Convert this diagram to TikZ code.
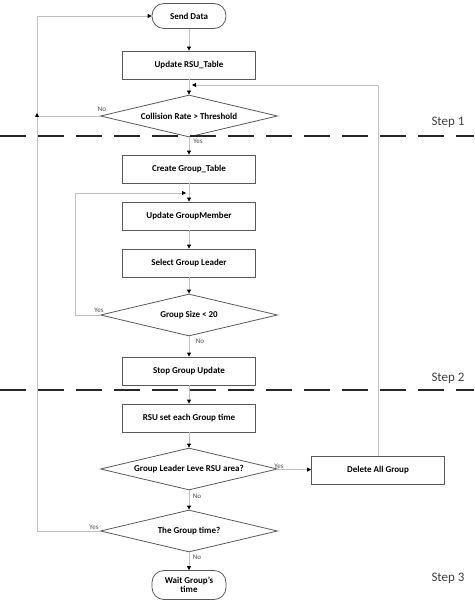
\documentclass[tikz,border=0pt]{standalone}
\usepackage{fontspec}
\setmainfont{Carlito}
\usepackage{tikz}
\usetikzlibrary{shapes.geometric}
\usetikzlibrary{arrows.meta}
\usetikzlibrary{positioning}
\usetikzlibrary{calc}

\begin{document}
\begin{tikzpicture}[x=1pt, y=-1pt,
    every node/.style={font=\fontsize{9}{10}\selectfont\bfseries, text=black},
    process/.style={rectangle, draw=black!65, thick, minimum width=133pt, minimum height=28pt},
    decision/.style={diamond, draw=black!65, thick, aspect=4.3, inner sep=0pt, minimum width=177pt, minimum height=42pt},
    term/.style={rectangle, rounded corners=12pt, draw=black!65, thick, minimum width=74pt, minimum height=25pt, inner sep=2pt},
    flow/.style={draw=black!25, thick, -{Triangle[length=4pt, width=4pt, color=black]}},
    line/.style={draw=black!25, thick},
    lbl/.style={font=\fontsize{7}{8}\selectfont, text=black!70},
    steplbl/.style={font=\fontsize{13}{14}\selectfont, text=black!75},
    sep/.style={draw=black!85, line width=1.6pt, dash pattern=on 26pt off 12pt}]

        \useasboundingbox (0,0) rectangle (474,601);

        \def\mid{189} % x of the main column
        \def\back{37} % x of the left return line

        % main column
        \node[term] (send) at (\mid, 16) {Send Data};
        \node[process] (rsutable) at (\mid, 65) {Update RSU\_Table};
        \node[decision] (collision) at (\mid, 116) {Collision Rate > Threshold};
        \node[process] (create) at (\mid, 169) {Create Group\_Table};
        \node[process] (member) at (\mid, 216) {Update GroupMember};
        \node[process] (leader) at (\mid, 263) {Select Group Leader};
        \node[decision] (size) at (\mid, 315) {Group Size < 20};
        \node[process] (stop) at (\mid, 371) {Stop Group Update};
        \node[process] (settime) at (\mid, 418) {RSU set each Group time};
        \node[decision] (leave) at (\mid, 469) {Group Leader Leve RSU area?};
        \node[process] (delete) at (378, 470) {Delete All Group};
        \node[decision] (gtime) at (\mid, 531) {The Group time?};
        \node[term, align=center, minimum height=29pt] (wait) at (\mid, 585) {Wait Group's\\[-1pt]time};

        \coordinate (join1) at (\mid, 85);
        \coordinate (join2) at (\mid, 193);
        \coordinate (sizeloop) at (75, 193);
        \coordinate (backtop) at (\back, 16);
        \coordinate (backbot) at (\back, 531);
        \coordinate (nojoin) at (\back, 116);
        \coordinate (deltop) at (378, 85);

        \draw[flow] (send) -- (rsutable);
        \draw[flow] (rsutable) -- (collision);
        \draw[flow] (collision) -- (create);
        \draw[flow] (create) -- (member);
        \draw[flow] (member) -- (leader);
        \draw[flow] (leader) -- (size);
        \draw[flow] (size) -- (stop);
        \draw[flow] (stop) -- (settime);
        \draw[flow] (settime) -- (leave);
        \draw[flow] (leave) -- (gtime);
        \draw[flow] (gtime) -- (wait);
        \draw[flow] (leave) -- (delete);

        % return lines
        \draw[flow] (delete.north) -- (deltop) -- ($(join1)+(3,0)$);
        \draw[flow] (size.west) -| (sizeloop) -- ($(join2)+(-3,0)$);
        \draw[line] (gtime.west) -- (backbot) -- (backtop);
        \draw[flow] (backtop) -- (send.west);
        \draw[flow] (collision.west) -| ($(nojoin)+(0,-3)$);

        \node[lbl] (no1) at (102, 109) {No};
        \node[lbl] (yes1) at (198, 141) {Yes};
        \node[lbl] (yes2) at (99, 310) {Yes};
        \node[lbl] (no2) at (200, 341) {No};
        \node[lbl] (yes3) at (279, 466) {Yes};
        \node[lbl] (no3) at (197, 496) {No};
        \node[lbl] (yes4) at (94, 527) {Yes};
        \node[lbl] (no4) at (197, 557) {No};

        % step borders
        \draw[sep] (0, 136) -- (474, 136);
        \draw[sep] (0, 390) -- (474, 390);
        \node[steplbl] (step1) at (448, 122) {Step 1};
        \node[steplbl] (step2) at (448, 378) {Step 2};
        \node[steplbl] (step3) at (448, 578) {Step 3};

      \end{tikzpicture}
\end{document}
